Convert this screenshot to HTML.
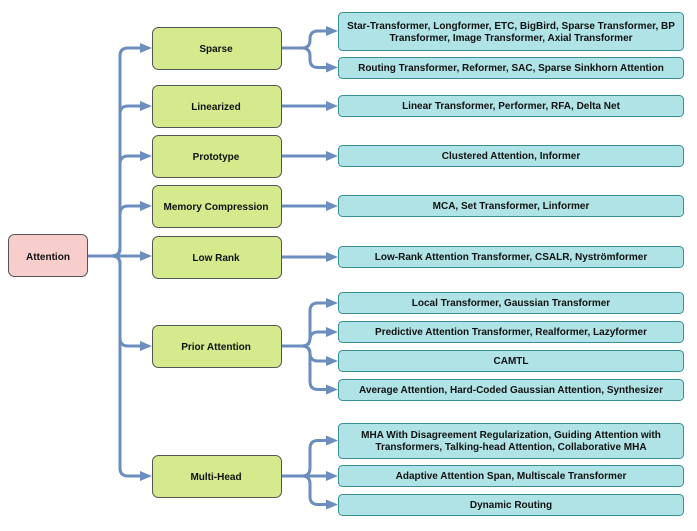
<!DOCTYPE html>
<html><head><meta charset="utf-8"><style>
html,body{margin:0;padding:0;background:#fff;}
svg{display:block;}
text{font-family:"Liberation Sans",sans-serif;font-weight:bold;font-size:10px;fill:#111;}
</style></head><body>
<svg width="697" height="531" viewBox="0 0 697 531" xmlns="http://www.w3.org/2000/svg">
<defs>
<marker id="a" markerUnits="userSpaceOnUse" markerWidth="14" markerHeight="12" refX="5" refY="5" orient="auto">
<path d="M0,0 L12,5 L0,10 z" fill="#6c8ebf"/>
</marker>
</defs>
<g fill="none" stroke="#6c8ebf" stroke-width="3" marker-end="url(#a)">
<path d="M87,256 H112 Q120,256 120,248 V56 Q120,48 128,48 H145"/>
<path d="M112,256 Q120,256 120,248 V114 Q120,106 128,106 H145"/>
<path d="M112,256 Q120,256 120,248 V164 Q120,156 128,156 H145"/>
<path d="M112,256 Q120,256 120,248 V214 Q120,206 128,206 H145"/>
<path d="M87,256 H145"/>
<path d="M112,256 Q120,256 120,264 V338 Q120,346 128,346 H145"/>
<path d="M112,256 Q120,256 120,264 V468 Q120,476 128,476 H145"/>
<path d="M281,48 H302 Q310,48 310,40 V39 Q310,31 318,31 H331"/>
<path d="M302,48 Q310,48 310,56 V59.5 Q310,67.5 318,67.5 H331"/>
<path d="M281,106 H331"/>
<path d="M281,156 H331"/>
<path d="M281,206 H331"/>
<path d="M281,257 H331"/>
<path d="M281,346 H302 Q310,346 310,338 V311 Q310,303 318,303 H331"/>
<path d="M302,346 Q310,346 310,338 V340 Q310,332 318,332 H331"/>
<path d="M302,346 Q310,346 310,354 V353 Q310,361 318,361 H331"/>
<path d="M302,346 Q310,346 310,354 V381.5 Q310,389.5 318,389.5 H331"/>
<path d="M281,476 H302 Q310,476 310,468 V448.5 Q310,440.5 318,440.5 H331"/>
<path d="M281,476 H331"/>
<path d="M302,476 Q310,476 310,484 V496.5 Q310,504.5 318,504.5 H331"/>
</g>
<rect x="8.5" y="234.5" width="79" height="42" rx="6" fill="#f8cecc" stroke="#555" stroke-width="1"/>
<text x="48" y="260" text-anchor="middle">Attention</text>
<g fill="#d4ea8c" stroke="#555" stroke-width="1">
<rect x="152.5" y="27.5" width="129" height="42" rx="6"/>
<rect x="152.5" y="85.5" width="129" height="42" rx="6"/>
<rect x="152.5" y="135.5" width="129" height="42" rx="6"/>
<rect x="152.5" y="185.5" width="129" height="42" rx="6"/>
<rect x="152.5" y="236.5" width="129" height="42" rx="6"/>
<rect x="152.5" y="325.5" width="129" height="42" rx="6"/>
<rect x="152.5" y="455.5" width="129" height="42" rx="6"/>
</g>
<g text-anchor="middle">
<text x="216" y="52">Sparse</text>
<text x="216" y="110">Linearized</text>
<text x="216" y="160">Prototype</text>
<text x="216" y="210">Memory Compression</text>
<text x="216" y="261">Low Rank</text>
<text x="216" y="350">Prior Attention</text>
<text x="216" y="480">Multi-Head</text>
</g>
<g fill="#b0e3e6" stroke="#3a8f96" stroke-width="1">
<rect x="338.5" y="12.5" width="345" height="38" rx="4"/>
<rect x="338.5" y="57.5" width="345" height="21" rx="4"/>
<rect x="338.5" y="95.5" width="345" height="21" rx="4"/>
<rect x="338.5" y="145.5" width="345" height="21" rx="4"/>
<rect x="338.5" y="195.5" width="345" height="21" rx="4"/>
<rect x="338.5" y="246.5" width="345" height="21" rx="4"/>
<rect x="338.5" y="292.5" width="345" height="21" rx="4"/>
<rect x="338.5" y="321.5" width="345" height="21" rx="4"/>
<rect x="338.5" y="350.5" width="345" height="21" rx="4"/>
<rect x="338.5" y="379.5" width="345" height="21" rx="4"/>
<rect x="338.5" y="423.5" width="345" height="35" rx="4"/>
<rect x="338.5" y="465.5" width="345" height="21" rx="4"/>
<rect x="338.5" y="494.5" width="345" height="21" rx="4"/>
</g>
<g text-anchor="middle">
<text x="511" y="29">Star-Transformer, Longformer, ETC, BigBird, Sparse Transformer, BP</text>
<text x="511" y="41">Transformer, Image Transformer, Axial Transformer</text>
<text x="511" y="71">Routing Transformer, Reformer, SAC, Sparse Sinkhorn Attention</text>
<text x="511" y="109">Linear Transformer, Performer, RFA, Delta Net</text>
<text x="511" y="159">Clustered Attention, Informer</text>
<text x="511" y="209">MCA, Set Transformer, Linformer</text>
<text x="511" y="260">Low-Rank Attention Transformer, CSALR, Nyströmformer</text>
<text x="511" y="306">Local Transformer, Gaussian Transformer</text>
<text x="511" y="335">Predictive Attention Transformer, Realformer, Lazyformer</text>
<text x="511" y="364">CAMTL</text>
<text x="511" y="393">Average Attention, Hard-Coded Gaussian Attention, Synthesizer</text>
<text x="511" y="438">MHA With Disagreement Regularization, Guiding Attention with</text>
<text x="511" y="450">Transformers, Talking-head Attention, Collaborative MHA</text>
<text x="511" y="479">Adaptive Attention Span, Multiscale Transformer</text>
<text x="511" y="508">Dynamic Routing</text>
</g>
</svg>
</body></html>
